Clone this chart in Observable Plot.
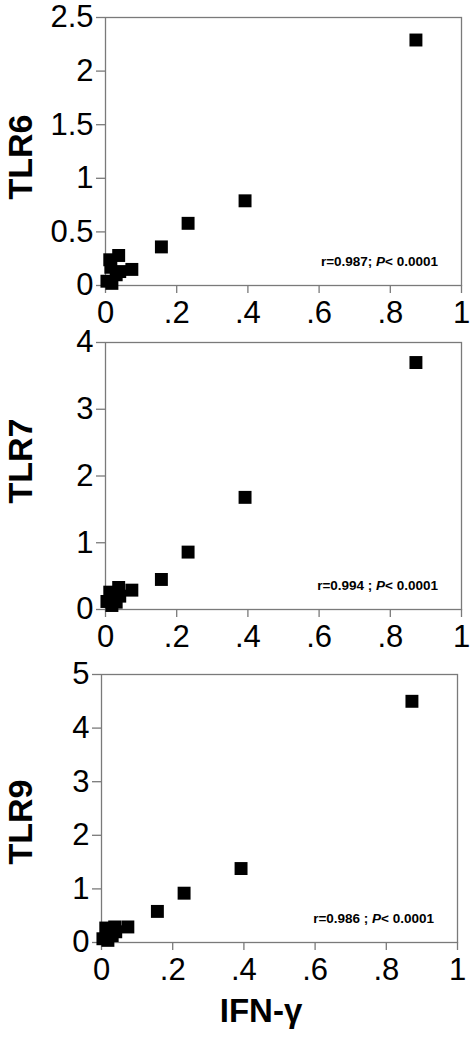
<!DOCTYPE html>
<html>
<head>
<meta charset="utf-8">
<script src="https://cdn.jsdelivr.net/npm/d3@7"></script>
<script src="https://cdn.jsdelivr.net/npm/@observablehq/plot@0.6"></script>
<style>
  html, body { margin: 0; padding: 0; background: #fff; }
  #chart { width: 474px; }
  #chart svg { display: block; }
</style>
</head>
<body>
<div id="chart"></div>
<script>
// IFN-γ (x) values shared by all three panels
const ifng = [0.872, 0.392, 0.232, 0.157, 0.074, 0.037, 0.012, 0.015, 0.030, 0.004, 0.018, 0.040];
// TLR expression values
const tlr6 = [2.29, 0.79, 0.58, 0.36, 0.15, 0.28, 0.24, 0.17, 0.10, 0.04, 0.02, 0.13];
const tlr7 = [3.70, 1.68, 0.86, 0.45, 0.29, 0.33, 0.26, 0.13, 0.11, 0.12, 0.06, 0.20];
const tlr9 = [4.50, 1.38, 0.92, 0.58, 0.29, 0.29, 0.27, 0.10, 0.13, 0.07, 0.04, 0.20];

const xTicks = [0, 0.2, 0.4, 0.6, 0.8, 1];
const yTicks6 = [0, 0.5, 1, 1.5, 2, 2.5];
const yTicks7 = [0, 1, 2, 3, 4];
const yTicks9 = [0, 1, 2, 3, 4, 5];

const panelLabels = ["TLR6", "TLR7", "TLR9"];
const rText = ["r=0.987; ", "r=0.994 ; ", "r=0.986 ; "];
const pText = "P";
const pRest = "< 0.0001";
const xLabel = "IFN-γ";

const fmtX = d => d === 0 ? "0" : d === 1 ? "1" : String(d).replace(/^0\./, ".");
const AX = "#7a7a7a";
const FONT = "'Liberation Sans', Arial, Helvetica, sans-serif";

const panels = [
  {y: tlr6, ticks: yTicks6, max: 2.5, h: 331, mt: 17, mb: 46, ml: 105, mr: 13, labY: 157},
  {y: tlr7, ticks: yTicks7, max: 4, h: 329, mt: 11, mb: 51, ml: 105, mr: 13, labY: 130},
  {y: tlr9, ticks: yTicks9, max: 5, h: 382, mt: 14, mb: 100, ml: 101, mr: 17, labY: 162}
];

const chart = document.getElementById("chart");

panels.forEach((p, i) => {
  const data = ifng.map((x, k) => ({x, y: p.y[k]}));
  const plot = Plot.plot({
    width: 474,
    height: p.h,
    marginTop: p.mt,
    marginBottom: p.mb,
    marginLeft: p.ml,
    marginRight: p.mr,
    style: {fontFamily: FONT, fontSize: "31px", color: "black", background: "white", overflow: "visible"},
    x: {domain: [0, 1]},
    y: {domain: [0, p.max]},
    marks: [
      Plot.frame({stroke: AX, strokeWidth: 1.3}),
      Plot.axisX({ticks: xTicks, tickFormat: fmtX, tickSize: 8, tickPadding: 7, stroke: AX, strokeWidth: 1.3, fill: "black", fontSize: 31, label: null}),
      Plot.axisY({ticks: p.ticks, tickFormat: d => String(d), tickSize: 9, tickPadding: 3, stroke: AX, strokeWidth: 1.3, fill: "black", fontSize: 31, label: null}),
      Plot.dot(data, {x: "x", y: "y", symbol: "square", r: 7.3, fill: "black", stroke: null})
    ]
  });
  const svg = d3.select(plot);
  const xs = plot.scale("x"), ys = plot.scale("y");
  const x1 = xs.apply(1), y0 = ys.apply(0);
  // y-axis title
  svg.append("text")
    .attr("transform", `translate(${20},${p.labY}) rotate(-90)`)
    .attr("text-anchor", "middle")
    .attr("dominant-baseline", "central")
    .attr("font-family", FONT)
    .attr("font-weight", "bold")
    .attr("font-size", 34)
    .attr("fill", "black")
    .text(panelLabels[i]);
  // correlation annotation
  const t = svg.append("text")
    .attr("x", x1 - 23)
    .attr("y", y0 - 19)
    .attr("text-anchor", "end")
    .attr("font-family", FONT)
    .attr("font-weight", "bold")
    .attr("font-size", 13.5)
    .attr("fill", "black");
  t.append("tspan").text(rText[i]);
  t.append("tspan").attr("font-style", "italic").text(pText);
  t.append("tspan").text(pRest);
  if (i === 2) {
    svg.append("text")
      .attr("x", 261)
      .attr("y", 362)
      .attr("text-anchor", "middle")
      .attr("font-family", FONT)
      .attr("font-weight", "bold")
      .attr("font-size", 33)
      .attr("fill", "black")
      .text(xLabel);
  }
  chart.appendChild(plot);
});
</script>
</body>
</html>
